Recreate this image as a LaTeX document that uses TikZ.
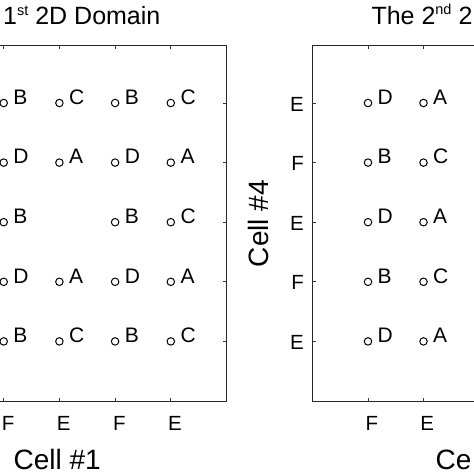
\documentclass[tikz,border=0pt]{standalone}
\usepackage{fontspec}
\setmainfont{Liberation Sans}
\begin{document}
\begin{tikzpicture}[x=1pt,y=-1pt,
  axis/.style={draw=black!85, line width=1pt},
  tickmark/.style={draw=black!80, line width=0.7pt},
  pt/.style={circle, draw=black, line width=1pt, minimum size=7.5pt, inner sep=0pt},
  lab/.style={anchor=base west, inner sep=0pt, font=\fontsize{21}{21}\selectfont},
  ticklab/.style={anchor=base, inner sep=0pt, font=\fontsize{20.5}{20.5}\selectfont},
  ylab/.style={anchor=base east, inner sep=0pt, font=\fontsize{20.5}{20.5}\selectfont},
  cellab/.style={inner sep=0pt, font=\fontsize{28}{28}\selectfont},
  titlelab/.style={anchor=base west, inner sep=0pt, font=\fontsize{25}{25}\selectfont}]
\useasboundingbox (0,0) rectangle (474,474);
\clip (0,0) rectangle (474,474);
\fill[white] (0,0) rectangle (474,474);
% panels
\draw[axis] (-60,45) rectangle (226.7,401.7);
\draw[axis] (312.3,45) rectangle (540,401.7);
% ticks
\foreach \i in {1,...,4}{
  \pgfmathsetmacro\xx{3.7+55.7*(\i-1)}
  \draw[tickmark] (\xx,45) -- (\xx,49);
  \draw[tickmark] (\xx,401.7) -- (\xx,397.7);
}
\foreach \j in {1,...,5}{
  \pgfmathsetmacro\yy{103+59.6*(\j-1)}
  \draw[tickmark] (226.7,\yy) -- (222.7,\yy);
  \draw[tickmark] (312.3,\yy) -- (316.3,\yy);
}
\foreach \xx in {368,423.5}{
  \draw[tickmark] (\xx,45) -- (\xx,49);
  \draw[tickmark] (\xx,401.7) -- (\xx,397.7);
}
% left panel points
\foreach \i/\j/\t in {1/1/B,2/1/C,3/1/B,4/1/C,
                      1/2/D,2/2/A,3/2/D,4/2/A,
                      1/3/B,3/3/B,4/3/C,
                      1/4/D,2/4/A,3/4/D,4/4/A,
                      1/5/B,2/5/C,3/5/B,4/5/C}{
  \pgfmathsetmacro\xx{3.7+55.7*(\i-1)}
  \pgfmathsetmacro\yy{103+59.6*(\j-1)}
  \node[pt] (lp-\i-\j) at (\xx,\yy) {};
  \node[lab] (lt-\i-\j) at (\xx+9.5,\yy+1.2) {\t};
}
% right panel points
\foreach \i/\j/\t in {1/1/D,2/1/A,
                      1/2/B,2/2/C,
                      1/3/D,2/3/A,
                      1/4/B,2/4/C,
                      1/5/D,2/5/A}{
  \pgfmathsetmacro\xx{368+55.5*(\i-1)}
  \pgfmathsetmacro\yy{103+59.6*(\j-1)}
  \node[pt] (rp-\i-\j) at (\xx,\yy) {};
  \node[lab] (rt-\i-\j) at (\xx+9.5,\yy+1.2) {\t};
}
% tick labels
\node[ticklab] (lx1) at (8.2,430.5) {F};
\node[ticklab] (lx2) at (63.6,430.5) {E};
\node[ticklab] (lx3) at (119.3,430.5) {F};
\node[ticklab] (lx4) at (175,430.5) {E};
\node[ticklab] (rx1) at (371.8,430.5) {F};
\node[ticklab] (rx2) at (427.3,430.5) {E};
\foreach \j/\t in {1/E,2/F,3/E,4/F,5/E}{
  \pgfmathsetmacro\yy{103+59.6*(\j-1)}
  \node[ylab] (ry-\j) at (304,\yy+8) {\t};
}
% axis labels
\node[cellab, anchor=base west] (cell1) at (13.5,469.5) {Cell \#1};
\node[cellab, anchor=base west] (cell2) at (435.5,469.5) {Ce};
\node[cellab, anchor=base, rotate=90] (cell4) at (268,223.5) {Cell \#4};
% titles
\node[titlelab] (title1) at (3,24) {1\raisebox{9pt}{\fontsize{14.5}{14.5}\selectfont st} 2D Domain};
\node[titlelab] (title2) at (371.3,24) {The 2\raisebox{9.5pt}{\fontsize{14.5}{14.5}\selectfont nd} 2};
\end{tikzpicture}
\end{document}
